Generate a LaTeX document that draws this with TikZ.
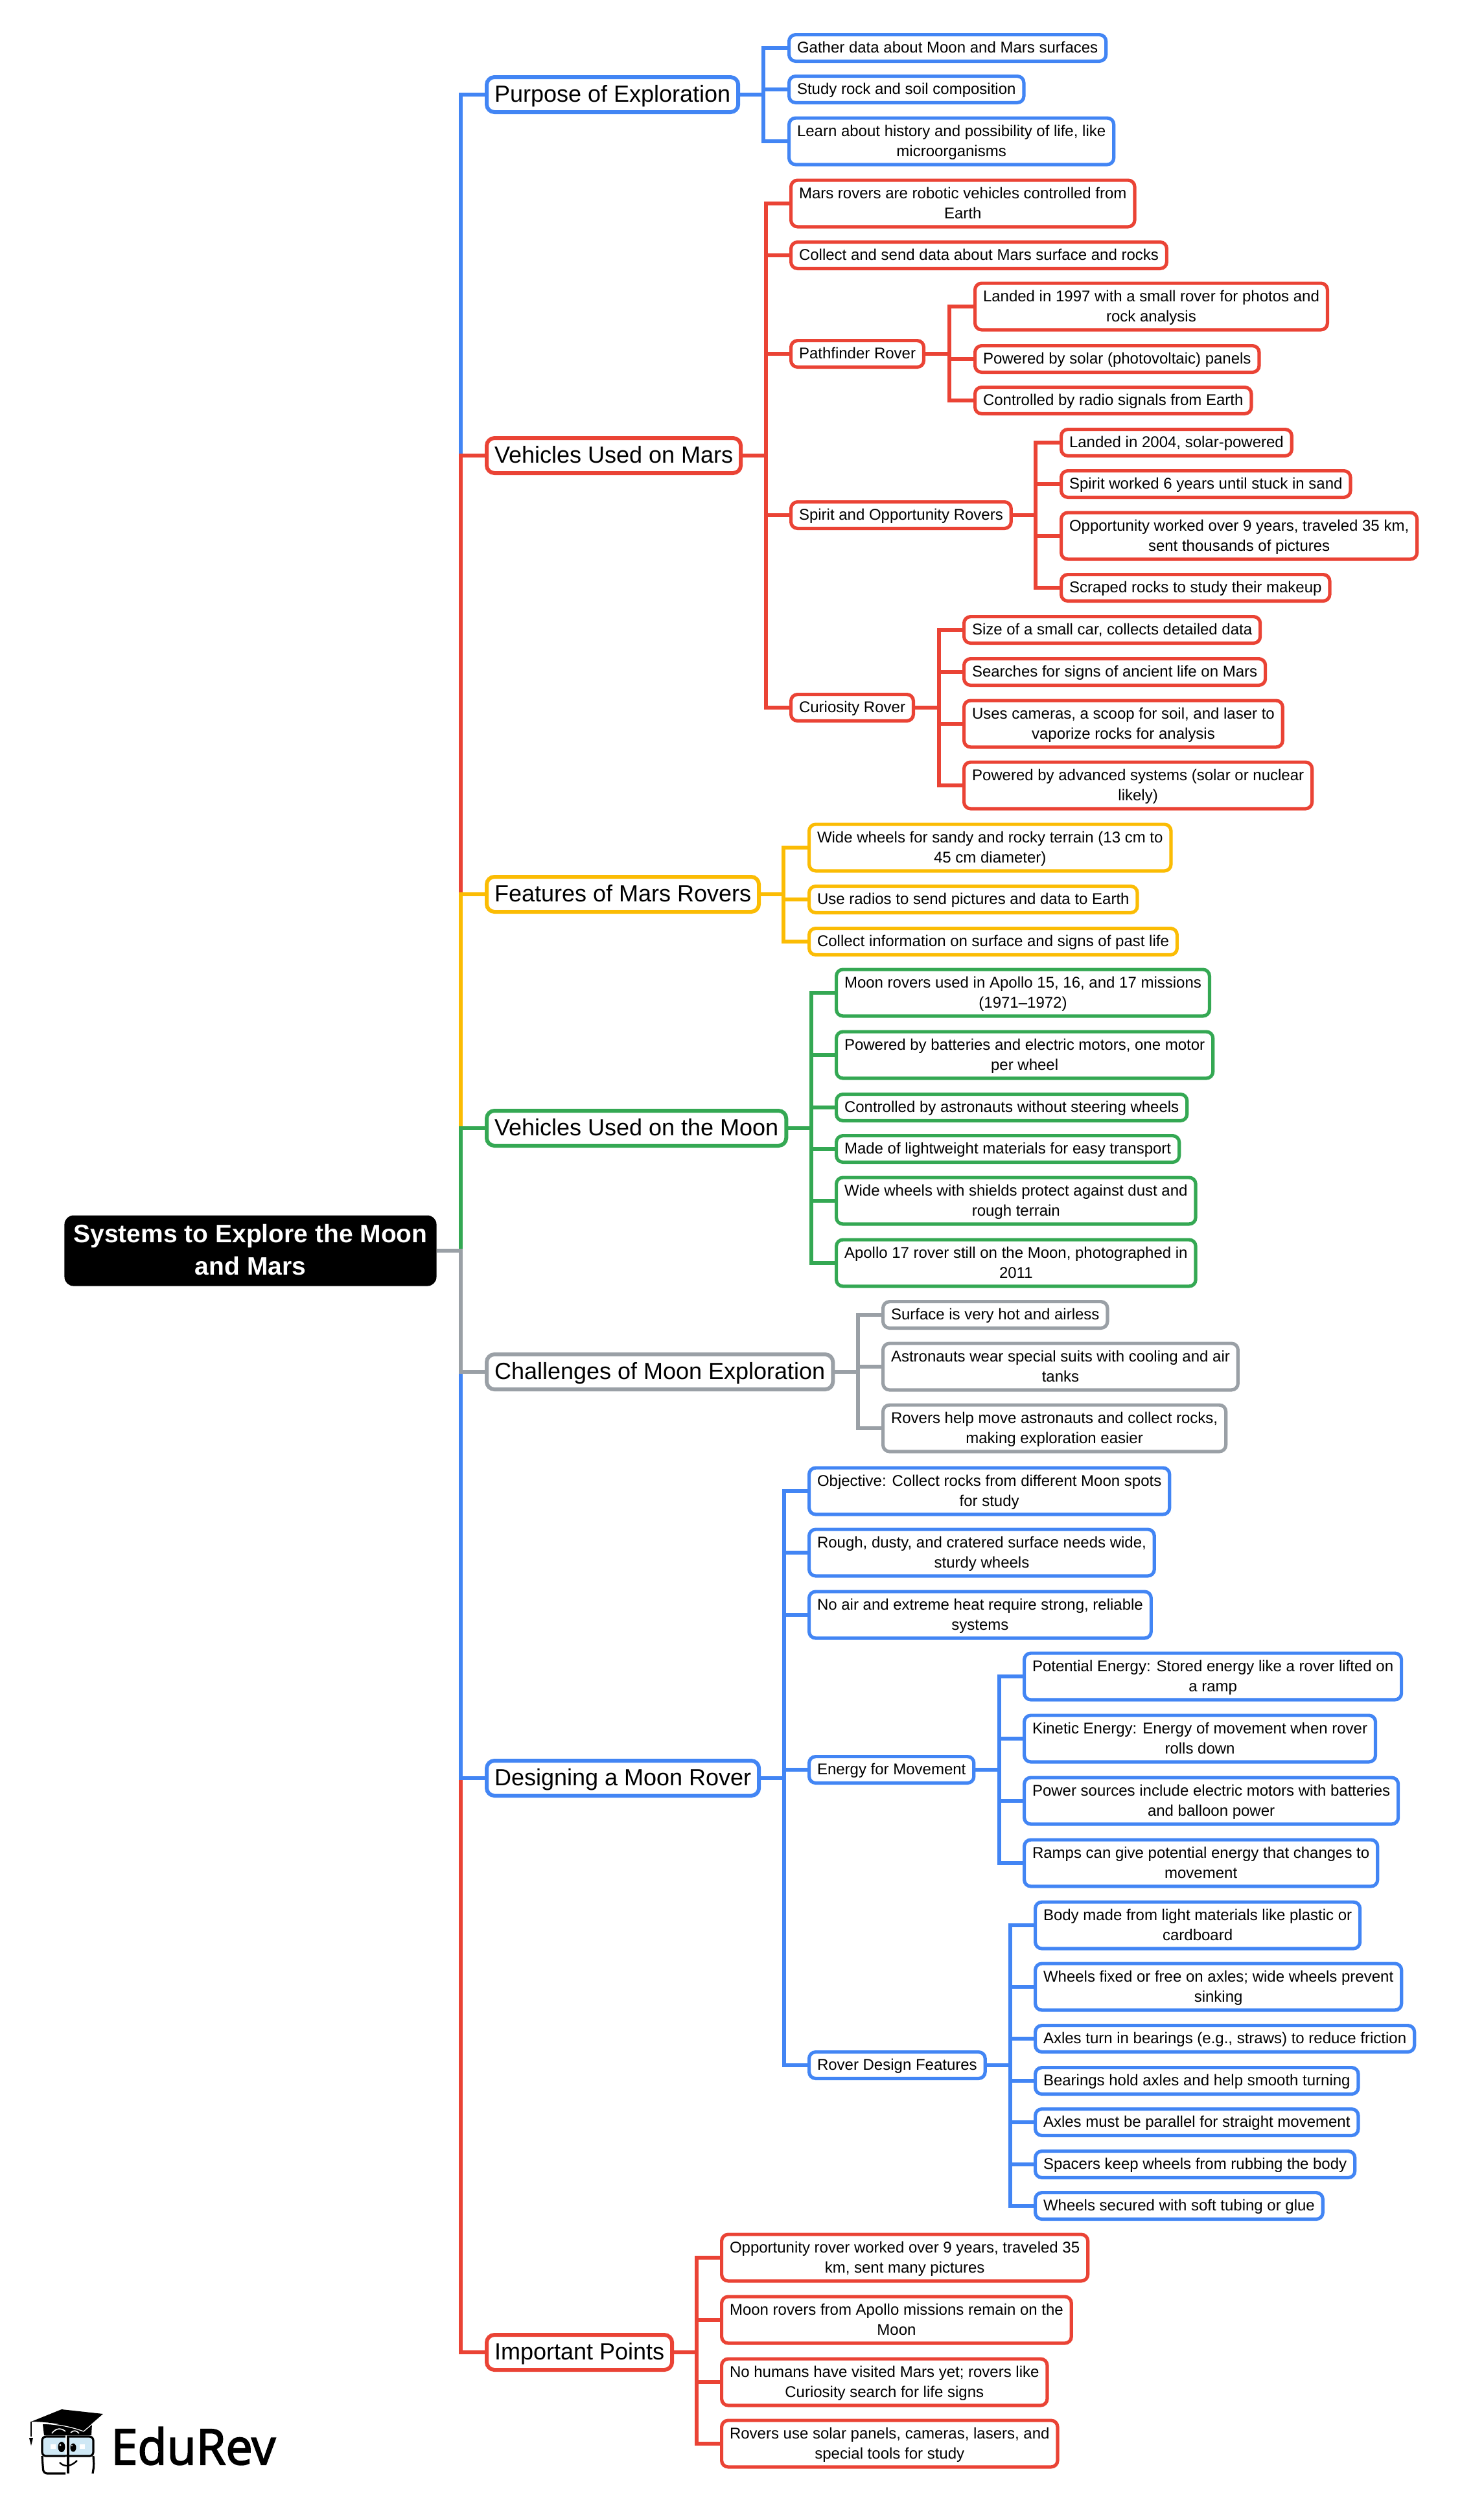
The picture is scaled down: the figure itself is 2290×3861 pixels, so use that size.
\documentclass[tikz,border=0pt]{standalone}
\usepackage{fontspec}
\usepackage{xcolor}
\setmainfont{Liberation Sans}
\newfontfamily\logofont[FakeBold=2.5,FakeStretch=0.97]{Open Sans}
\definecolor{bluel}{HTML}{4285F4}
\definecolor{redl}{HTML}{EA4335}
\definecolor{yellowl}{HTML}{FBBC04}
\definecolor{greenl}{HTML}{34A853}
\definecolor{greyl}{HTML}{9AA0A6}
\definecolor{glassl}{HTML}{CFE8F5}

\begin{document}
\begin{tikzpicture}[x=0.5pt,y=-0.5pt,
% common options for the boxes:
root/.style = {fill=black, text=white, rounded corners=7pt, align=center, inner xsep=7pt, inner ysep=2.25pt,
            font=\fontsize{19.5}{25}\selectfont\bfseries, text height=43.5pt, text depth=6.5pt},
topic/.style = {draw=#1, line width=3pt, rounded corners=6pt, anchor=west, align=center, inner xsep=6pt, inner ysep=2pt,
            font=\fontsize{18}{23}\selectfont, text height=17.1pt, text depth=5.9pt},
leaf/.style = {draw=#1, line width=2.6pt, rounded corners=5pt, anchor=west, align=center, inner xsep=6.2pt, inner ysep=2.45pt,
            font=\fontsize{12}{15.5}\selectfont, text height=11.55pt, text depth=3.95pt},
% two lines of text in a leaf:
two/.style = {text height=27.05pt},
% common options for the connectors:
branch/.style = {draw=#1, line width=3pt}]
\useasboundingbox (0,0) rectangle (2290,3861);

\node[root] (R0) at (386.5,1930) {Systems to Explore the Moon\\and Mars};

\node[topic=bluel] (A1) at (748,146) {Purpose of Exploration};
\node[topic=redl] (A2) at (748,703) {Vehicles Used on Mars};
\node[topic=yellowl] (A3) at (748,1380) {Features of Mars Rovers};
\node[topic=greenl] (A4) at (748,1741) {Vehicles Used on the Moon};
\node[topic=greyl] (A5) at (748,2117) {Challenges of Moon Exploration};
\node[topic=bluel] (A6) at (748,2744) {Designing a Moon Rover};
\node[topic=redl] (A7) at (748,3630) {Important Points};

% Purpose of Exploration
\node[leaf=bluel] (B1) at (1215,74) {Gather data about Moon and Mars surfaces};
\node[leaf=bluel] (B2) at (1215,138) {Study rock and soil composition};
\node[leaf=bluel,two] (B3) at (1215,218) {Learn about history and possibility of life, like\\microorganisms};

% Vehicles Used on Mars
\node[leaf=redl,two] (C1) at (1218,314) {Mars rovers are robotic vehicles controlled from\\Earth};
\node[leaf=redl] (C2) at (1218,394) {Collect and send data about Mars surface and rocks};
\node[leaf=redl] (C3) at (1218,546) {Pathfinder Rover};
\node[leaf=redl] (C4) at (1218,795) {Spirit and Opportunity Rovers};
\node[leaf=redl] (C5) at (1218,1092) {Curiosity Rover};

% Pathfinder Rover
\node[leaf=redl,two] (D1) at (1502,473) {Landed in 1997 with a small rover for photos and\\rock analysis};
\node[leaf=redl] (D2) at (1502,554) {Powered by solar (photovoltaic) panels};
\node[leaf=redl] (D3) at (1502,618) {Controlled by radio signals from Earth};

% Spirit and Opportunity Rovers
\node[leaf=redl] (E1) at (1635,683) {Landed in 2004, solar-powered};
\node[leaf=redl] (E2) at (1635,747) {Spirit worked 6 years until stuck in sand};
\node[leaf=redl,two] (E3) at (1635,827) {Opportunity worked over 9 years, traveled 35 km,\\sent thousands of pictures};
\node[leaf=redl] (E4) at (1635,907) {Scraped rocks to study their makeup};

% Curiosity Rover
\node[leaf=redl] (F1) at (1485,972) {Size of a small car, collects detailed data};
\node[leaf=redl] (F2) at (1485,1037) {Searches for signs of ancient life on Mars};
\node[leaf=redl,two] (F3) at (1485,1117) {Uses cameras, a scoop for soil, and laser to\\vaporize rocks for analysis};
\node[leaf=redl,two] (F4) at (1485,1212) {Powered by advanced systems (solar or nuclear\\likely)};

% Features of Mars Rovers
\node[leaf=yellowl,two] (G1) at (1246,1308) {Wide wheels for sandy and rocky terrain (13 cm to\\45 cm diameter)};
\node[leaf=yellowl] (G2) at (1246,1388) {Use radios to send pictures and data to Earth};
\node[leaf=yellowl] (G3) at (1246,1453) {Collect information on surface and signs of past life};

% Vehicles Used on the Moon
\node[leaf=greenl,two] (H1) at (1288,1532) {Moon rovers used in Apollo 15, 16, and 17 missions\\(1971–1972)};
\node[leaf=greenl,two] (H2) at (1288,1628) {Powered by batteries and electric motors, one motor\\per wheel};
\node[leaf=greenl] (H3) at (1288,1709) {Controlled by astronauts without steering wheels};
\node[leaf=greenl] (H4) at (1288,1773) {Made of lightweight materials for easy transport};
\node[leaf=greenl,two] (H5) at (1288,1853) {Wide wheels with shields protect against dust and\\rough terrain};
\node[leaf=greenl,two] (H6) at (1288,1949) {Apollo 17 rover still on the Moon, photographed in\\2011};

% Challenges of Moon Exploration
\node[leaf=greyl] (I1) at (1360,2029) {Surface is very hot and airless};
\node[leaf=greyl,two] (I2) at (1360,2109) {Astronauts wear special suits with cooling and air\\tanks};
\node[leaf=greyl,two] (I3) at (1360,2204) {Rovers help move astronauts and collect rocks,\\making exploration easier};

% Designing a Moon Rover
\node[leaf=bluel,two] (J1) at (1246,2301) {Objective: Collect rocks from different Moon spots\\for study};
\node[leaf=bluel,two] (J2) at (1246,2396) {Rough, dusty, and cratered surface needs wide,\\sturdy wheels};
\node[leaf=bluel,two] (J3) at (1246,2492) {No air and extreme heat require strong, reliable\\systems};
\node[leaf=bluel] (J4) at (1246,2731) {Energy for Movement};
\node[leaf=bluel] (J5) at (1246,3187) {Rover Design Features};

% Energy for Movement
\node[leaf=bluel,two] (K1) at (1578,2587) {Potential Energy: Stored energy like a rover lifted on\\a ramp};
\node[leaf=bluel,two] (K2) at (1578,2683) {Kinetic Energy: Energy of movement when rover\\rolls down};
\node[leaf=bluel,two] (K3) at (1578,2779) {Power sources include electric motors with batteries\\and balloon power};
\node[leaf=bluel,two] (K4) at (1578,2875) {Ramps can give potential energy that changes to\\movement};

% Rover Design Features
\node[leaf=bluel,two] (L1) at (1595,2971) {Body made from light materials like plastic or\\cardboard};
\node[leaf=bluel,two] (L2) at (1595,3066) {Wheels fixed or free on axles; wide wheels prevent\\sinking};
\node[leaf=bluel] (L3) at (1595,3146) {Axles turn in bearings (e.g., straws) to reduce friction};
\node[leaf=bluel] (L4) at (1595,3211) {Bearings hold axles and help smooth turning};
\node[leaf=bluel] (L5) at (1595,3275) {Axles must be parallel for straight movement};
\node[leaf=bluel] (L6) at (1595,3340) {Spacers keep wheels from rubbing the body};
\node[leaf=bluel] (L7) at (1595,3404) {Wheels secured with soft tubing or glue};

% Important Points
\node[leaf=redl,two] (M1) at (1111,3484) {Opportunity rover worked over 9 years, traveled 35\\km, sent many pictures};
\node[leaf=redl,two] (M2) at (1111,3580) {Moon rovers from Apollo missions remain on the\\Moon};
\node[leaf=redl,two] (M3) at (1111,3676) {No humans have visited Mars yet; rovers like\\Curiosity search for life signs};
\node[leaf=redl,two] (M4) at (1111,3771) {Rovers use solar panels, cameras, lasers, and\\special tools for study};

% bus points
\coordinate (trunk) at (711,1930);
\coordinate (busA1) at (1178,146);
\coordinate (busA2) at (1182,703);
\coordinate (busC3) at (1465,546);
\coordinate (busC4) at (1598,795);
\coordinate (busC5) at (1449,1092);
\coordinate (busA3) at (1209,1380);
\coordinate (busA4) at (1252,1741);
\coordinate (busA5) at (1324,2117);
\coordinate (busA6) at (1210,2744);
\coordinate (busJ4) at (1542,2731);
\coordinate (busJ5) at (1559,3187);
\coordinate (busA7) at (1075,3630);

% trunk, drawn in this order so that the right colour stays on top
\draw[branch=bluel] (R0.east) -- (trunk) |- (A1.west);
\draw[branch=redl] (R0.east) -- (trunk) |- (A2.west);
\draw[branch=yellowl] (R0.east) -- (trunk) |- (A3.west);
\draw[branch=greenl] (R0.east) -- (trunk) |- (A4.west);
\draw[branch=redl] (R0.east) -- (trunk) |- (A7.west);
\draw[branch=bluel] (R0.east) -- (trunk) |- (A6.west);
\draw[branch=greyl] (R0.east) -- (trunk) |- (A5.west);

\foreach \n in {B1,B2,B3} \draw[branch=bluel] (A1.east) -- (busA1) |- (\n.west);
\foreach \n in {C1,C2,C3,C4,C5} \draw[branch=redl] (A2.east) -- (busA2) |- (\n.west);
\foreach \n in {D1,D2,D3} \draw[branch=redl] (C3.east) -- (busC3) |- (\n.west);
\foreach \n in {E1,E2,E3,E4} \draw[branch=redl] (C4.east) -- (busC4) |- (\n.west);
\foreach \n in {F1,F2,F3,F4} \draw[branch=redl] (C5.east) -- (busC5) |- (\n.west);
\foreach \n in {G1,G2,G3} \draw[branch=yellowl] (A3.east) -- (busA3) |- (\n.west);
\foreach \n in {H1,H2,H3,H4,H5,H6} \draw[branch=greenl] (A4.east) -- (busA4) |- (\n.west);
\foreach \n in {I1,I2,I3} \draw[branch=greyl] (A5.east) -- (busA5) |- (\n.west);
\foreach \n in {J1,J2,J3,J4,J5} \draw[branch=bluel] (A6.east) -- (busA6) |- (\n.west);
\foreach \n in {K1,K2,K3,K4} \draw[branch=bluel] (J4.east) -- (busJ4) |- (\n.west);
\foreach \n in {L1,L2,L3,L4,L5,L6,L7} \draw[branch=bluel] (J5.east) -- (busJ5) |- (\n.west);
\foreach \n in {M1,M2,M3,M4} \draw[branch=redl] (A7.east) -- (busA7) |- (\n.west);

% EduRev logo
\node[anchor=base west, inner sep=0, font=\fontsize{38}{40}\logofont] (logo) at (171,3803) {EduRev};
% glasses and face
\draw[fill=glassl, line width=1.6pt, rounded corners=3pt] (65,3760) rectangle (144,3790);
\draw[line width=1.6pt, rounded corners=3pt] (101,3817) -- (67,3817) -- (65,3790);
\draw[line width=1.6pt, rounded corners=3pt] (144,3790) -- (145,3805) -- (143,3817);
\draw[line width=1.6pt] (105,3760) -- (105,3817);
\draw[white, line width=1pt] (102,3758) -- (102,3787) (102,3791) -- (102,3800);
% eyes
\fill (95,3776) ellipse [x radius=5.5, y radius=8];
\fill (113,3777) ellipse [x radius=4.5, y radius=6.5];
\fill[white] (93,3773) circle [radius=1.5];
\fill[white] (111,3774) circle [radius=1.2];
\fill[white] (78,3772) rectangle (86,3779);
\fill[white] (123,3772) rectangle (131,3779);
% smile
\draw[line width=1.2pt] (92,3800) .. controls (100,3808) and (110,3806) .. (119,3797);
% cap
\fill (66,3741) -- (142,3741) -- (141,3758) -- (68,3758) -- cycle;
\fill (48,3737) -- (95,3718) -- (159,3725) -- (129,3751) .. controls (105,3742) and (75,3737) .. cycle;
\draw[white, line width=0.6pt] (66,3740) .. controls (90,3741) and (110,3745) .. (129,3752) -- (142,3741);
\draw[white, line width=0.8pt] (80,3755) .. controls (86,3747) and (94,3746) .. (101,3752);
\draw[white, line width=0.8pt] (109,3754) .. controls (113,3750) and (118,3750) .. (122,3755);
% tassel
\draw[line width=0.7pt] (48,3737) -- (48,3760);
\fill (45,3762) -- (51,3762) -- (48,3774) -- cycle;
\end{tikzpicture}
\end{document}
